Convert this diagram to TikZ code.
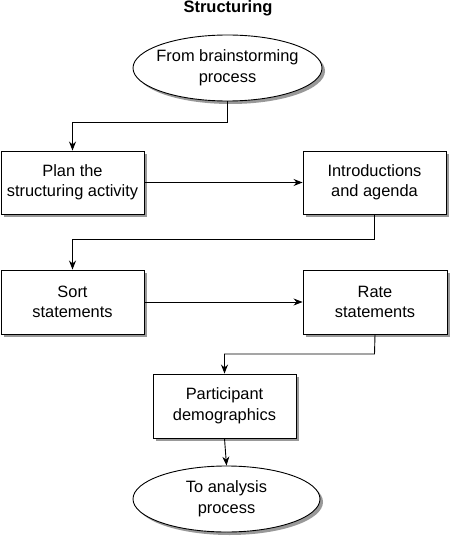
\documentclass[tikz,border=0pt]{standalone}
\usepackage{fontspec}
\setmainfont{Liberation Sans}
\usetikzlibrary{shapes.geometric,shadows,arrows.meta}
\begin{document}
\begin{tikzpicture}[x=1pt,y=-1pt,
  shad/.style={drop shadow={shadow xshift=3pt,shadow yshift=-3pt,fill=black!40,opacity=1}},
  box/.style={draw,fill=white,line width=0.9pt,minimum width=143pt,minimum height=63pt,align=center,font=\fontsize{16.4}{20.5}\selectfont,inner sep=0pt,shad},
  oval/.style={ellipse,draw,fill=white,line width=0.9pt,minimum width=189pt,minimum height=66pt,align=center,font=\fontsize{16.4}{20.5}\selectfont,inner xsep=-40pt,inner ysep=-10pt,shad},
  conn/.style={line width=0.9pt,-{Stealth[length=9pt,width=7pt]}}]
\useasboundingbox (0,0) rectangle (451,537);
\node[font=\bfseries\fontsize{16.5}{18}\selectfont] (title) at (228,8) {Structuring};
\node[oval] (e1) at (227.5,68) {From brainstorming\\process};
\node[box] (b1) at (72.5,182.5) {Plan the\\structuring activity};
\node[box] (b2) at (374.5,182.5) {Introductions\\and agenda};
\node[box,minimum height=64pt] (b3) at (72.5,302) {Sort\\statements};
\node[box,minimum height=64pt,minimum width=144pt] (b4) at (375,302) {Rate\\statements};
\node[box,minimum height=64pt] (b5) at (224.5,406) {Participant\\demographics};
\node[oval,minimum width=187pt] (e2) at (226.5,499) {To analysis\\process};
\coordinate (k1) at (227.5,122);
\coordinate (k2) at (374.5,239);
\coordinate (k3) at (374.5,354);
\draw[conn] (e1.south) -- (k1) -| (b1.north);
\draw[conn] (b1.east) -- (b2.west);
\draw[conn] (b2.south) -- (k2) -| (b3.north);
\draw[conn] (b3.east) -- (b4.west);
\draw[conn] (b4.south) -- (k3) -| (b5.north);
\draw[conn] (b5.south) -- (e2.north);
\end{tikzpicture}
\end{document}
